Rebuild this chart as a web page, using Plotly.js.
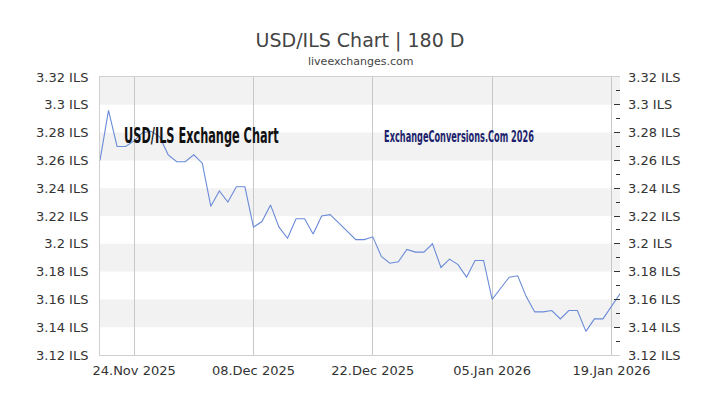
<!DOCTYPE html>
<html>
<head>
<meta charset="utf-8">
<script src="https://cdn.plot.ly/plotly-3.0.1.min.js"></script>
<style>
  html, body { margin: 0; padding: 0; background: #fff; }
  #chart { width: 720px; height: 405px; }
</style>
</head>
<body>
<div id="chart"></div>
<script>
// USD/ILS daily rate, last ~2 months
var dates = [
  '2025-11-20', '2025-11-21', '2025-11-22', '2025-11-23', '2025-11-24', '2025-11-25',
  '2025-11-26', '2025-11-27', '2025-11-28', '2025-11-29', '2025-11-30',
  '2025-12-01', '2025-12-02', '2025-12-03', '2025-12-04', '2025-12-05', '2025-12-06',
  '2025-12-07', '2025-12-08', '2025-12-09', '2025-12-10', '2025-12-11', '2025-12-12',
  '2025-12-13', '2025-12-14', '2025-12-15', '2025-12-16', '2025-12-17', '2025-12-18',
  '2025-12-19', '2025-12-20', '2025-12-21', '2025-12-22', '2025-12-23', '2025-12-24',
  '2025-12-25', '2025-12-26', '2025-12-27', '2025-12-28', '2025-12-29', '2025-12-30',
  '2025-12-31',
  '2026-01-01', '2026-01-02', '2026-01-03', '2026-01-04', '2026-01-05', '2026-01-06',
  '2026-01-07', '2026-01-08', '2026-01-09', '2026-01-10', '2026-01-11', '2026-01-12',
  '2026-01-13', '2026-01-14', '2026-01-15', '2026-01-16', '2026-01-17', '2026-01-18',
  '2026-01-19', '2026-01-20'
];
var rates = [
  3.260, 3.296, 3.270, 3.270, 3.274, 3.280,
  3.281, 3.277, 3.264, 3.259, 3.259,
  3.264, 3.258, 3.227, 3.238, 3.230, 3.241,
  3.241, 3.212, 3.216, 3.228, 3.212, 3.204,
  3.218, 3.218, 3.207, 3.220, 3.221, 3.215,
  3.209, 3.203, 3.203, 3.205, 3.191, 3.186,
  3.187, 3.196, 3.194, 3.194, 3.200, 3.183,
  3.189,
  3.185, 3.176, 3.188, 3.188, 3.160, 3.168,
  3.176, 3.177, 3.162, 3.151, 3.151, 3.152,
  3.146, 3.152, 3.152, 3.137, 3.146, 3.146,
  3.155, 3.164
];
var xTicks = ['2025-11-24', '2025-12-08', '2025-12-22', '2026-01-05', '2026-01-19'];
var yTicks = [3.12, 3.14, 3.16, 3.18, 3.20, 3.22, 3.24, 3.26, 3.28, 3.30, 3.32];
var yLabels = yTicks.map(function (v) { return (+v.toFixed(2)) + ' ILS'; });

// alternating grey bands, every other tick interval from the top
var bands = [];
for (var i = yTicks.length - 1; i > 0; i -= 2) {
  bands.push({
    type: 'rect', xref: 'paper', yref: 'y', layer: 'below',
    x0: 0, x1: 1, y0: yTicks[i - 1], y1: yTicks[i],
    fillcolor: '#f2f2f2', line: { width: 0 }
  });
}

var tickFont = { family: 'DejaVu Sans, sans-serif', size: 13, color: '#333' };

var data = [
  {
    type: 'scatter', mode: 'lines',
    x: dates, y: rates,
    line: { color: '#6a8bd8', width: 1.1 },
    hoverinfo: 'x+y'
  },
  {
    type: 'scatter', mode: 'lines',
    x: dates, y: rates, yaxis: 'y2',
    line: { width: 0 }, opacity: 0, hoverinfo: 'skip', showlegend: false
  }
];

var layout = {
  width: 720, height: 405,
  margin: { l: 100, r: 100, t: 77, b: 50 },
  paper_bgcolor: '#fff', plot_bgcolor: '#fff',
  showlegend: false,
  title: {
    text: 'USD/ILS Chart | 180 D',
    font: { family: 'DejaVu Sans, sans-serif', size: 19, color: '#444' },
    x: 0.5, xanchor: 'center',
    y: 1 - 40 / 405, yref: 'container', yanchor: 'middle'
  },
  xaxis: {
    type: 'date',
    range: ['2025-11-20', '2026-01-20'],
    tickvals: xTicks,
    tickformat: '%d.%b %Y',
    tickfont: tickFont,
    showgrid: true, gridcolor: '#c8c8c8', gridwidth: 1,
    showline: true, linecolor: '#d0d0d0', mirror: true,
    ticks: '', zeroline: false, fixedrange: true,
    ticklabelstandoff: 3
  },
  yaxis: {
    range: [3.12, 3.32],
    tickvals: yTicks, ticktext: yLabels,
    tickfont: tickFont,
    showgrid: false, zeroline: false,
    showline: true, linecolor: '#d0d0d0',
    ticks: '', ticklabelstandoff: 8, fixedrange: true
  },
  yaxis2: {
    overlaying: 'y', side: 'right',
    range: [3.12, 3.32],
    tickvals: yTicks, ticktext: yLabels,
    tickfont: tickFont,
    showgrid: false, zeroline: false, showline: false,
    ticks: 'inside', ticklen: 6, tickcolor: '#333', tickwidth: 1,
    minor: { ticks: 'inside', dtick: 0.01, tick0: 3.11, ticklen: 4, tickcolor: '#333', showgrid: false },
    ticklabelstandoff: 7, fixedrange: true
  },
  shapes: bands,
  annotations: [
    {
      text: 'liveexchanges.com', showarrow: false,
      xref: 'paper', yref: 'paper', x: 0.5, y: (355 - 62) / 278,
      xanchor: 'center', yanchor: 'middle',
      font: { family: 'DejaVu Sans, sans-serif', size: 11, color: '#444' }
    },
    {
      text: '<b>USD/ILS Exchange Chart</b>', showarrow: false,
      xref: 'paper', yref: 'paper', x: 22 / 520, y: (355 - 135) / 278,
      xanchor: 'left', yanchor: 'middle',
      font: { family: 'Liberation Sans Narrow, DejaVu Sans Condensed, DejaVu Sans, sans-serif', size: 22, color: '#111' }
    },
    {
      text: '<b>ExchangeConversions.Com 2026</b>', showarrow: false,
      xref: 'paper', yref: 'paper', x: 282 / 520, y: (355 - 136) / 278,
      xanchor: 'left', yanchor: 'middle',
      font: { family: 'Liberation Sans Narrow, DejaVu Sans Condensed, DejaVu Sans, sans-serif', size: 16, color: '#1c1f6b' }
    }
  ]
};

// squeeze the two watermark texts horizontally (no condensed font installed)
var squeezeWidths = { 1: 155, 2: 150 };

Plotly.newPlot('chart', data, layout, { displayModeBar: false, staticPlot: true }).then(function (gd) {
  var anns = gd.querySelectorAll('.annotation');
  Object.keys(squeezeWidths).forEach(function (k) {
    var el = anns[k] && anns[k].querySelector('text');
    if (!el) return;
    var bb = el.getBBox();
    var s = squeezeWidths[k] / bb.width;
    var prev = el.getAttribute('transform') || '';
    el.setAttribute('transform', prev + ' translate(' + (bb.x * (1 - s)) + ',0) scale(' + s + ',1)');
  });
});
</script>
</body>
</html>
